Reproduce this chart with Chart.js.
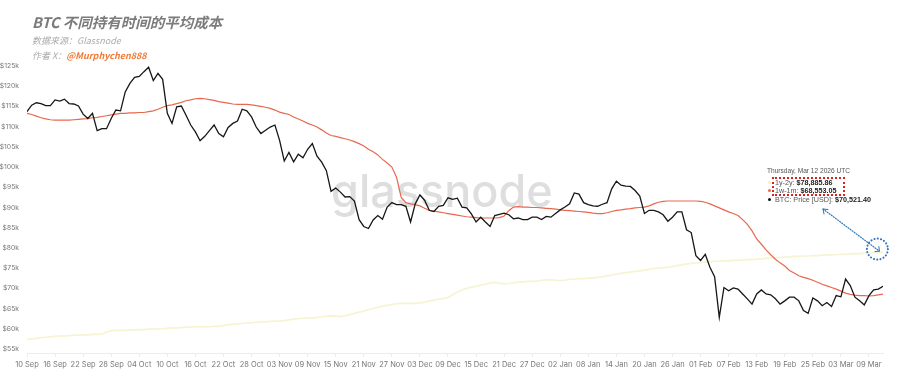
<!DOCTYPE html>
<html>
<head>
<meta charset="utf-8">
<script src="https://cdn.jsdelivr.net/npm/chart.js@4.4.1/dist/chart.umd.min.js"></script>
<style>
  body { margin: 0; background: #fff; }
  #wrap { position: relative; width: 900px; height: 388px; overflow: hidden; }
  #chart { position: absolute; left: 0; top: 0; }
  .head { position: absolute; left: 32px; font-style: italic; white-space: nowrap; font-family: 'Noto Sans CJK SC', 'Noto Sans', sans-serif; }
  #title { top: 11px; font-size: 14.5px; font-weight: 700; color: #7b7b7b; }
  #source { top: 34px; font-size: 9px; color: #ababab; }
  #author { top: 49px; font-size: 9px; color: #ababab; }
  #author b { color: #f07a36; }
  #tip { position: absolute; left: 767px; top: 0; font-family: 'Liberation Sans', Arial, sans-serif; color: #555; white-space: nowrap; }
  #tip div { position: absolute; left: 0; height: 8px; line-height: 8px; }
  #tipHead { top: 167px; font-size: 6.6px; }
  #tip .row { font-size: 7.2px; }
  #tip .row b { color: #222; }
  #tip .dot { display: inline-block; width: 3px; height: 3px; border-radius: 50%; margin: 0 4px 1px 1px; vertical-align: middle; }
  #tipBox { position: absolute; left: 772px; top: 176.5px; width: 69px; height: 15px; border: 2px dotted #d9221f; }
</style>
</head>
<body>
<div id="wrap">
  <canvas id="chart" width="900" height="388"></canvas>
  <div class="head" id="title">BTC 不同持有时间的平均成本</div>
  <div class="head" id="source">数据来源：Glassnode</div>
  <div class="head" id="author">作者 X：<b>@Murphychen888</b></div>
  <div id="tipBox"></div>
  <div id="tip">
    <div id="tipHead">Thursday, Mar 12 2026 UTC</div>
    <div class="row" style="top:179px"><span class="dot" style="background:#f3f0b8"></span>1y-2y: <b id="v1"></b></div>
    <div class="row" style="top:186.5px"><span class="dot" style="background:#e8684f"></span>1w-1m: <b id="v2"></b></div>
    <div class="row" style="top:196px"><span class="dot" style="background:#111"></span>BTC: Price [USD]: <b id="v3"></b></div>
  </div>
</div>
<script>
'use strict'

// daily values in $k, 10 Sep 2025 .. 12 Mar 2026
const tickLabels = ['10 Sep', '16 Sep', '22 Sep', '28 Sep', '04 Oct', '10 Oct', '16 Oct', '22 Oct', '28 Oct',
  '03 Nov', '09 Nov', '15 Nov', '21 Nov', '27 Nov', '03 Dec', '09 Dec', '15 Dec', '21 Dec', '27 Dec',
  '02 Jan', '08 Jan', '14 Jan', '20 Jan', '26 Jan', '01 Feb', '07 Feb', '13 Feb', '19 Feb', '25 Feb',
  '03 Mar', '09 Mar'];
const tickStep = 6; // days between x labels

const yTickValues = [55, 60, 65, 70, 75, 80, 85, 90, 95, 100, 105, 110, 115, 120, 125];

const btcPrice = [
  113.7, 115.3, 115.9, 115.7, 115.2, 115.2, 116.6, 116.3, 116.8, 115.7,
  115.6, 115.1, 113.1, 112.0, 113.3, 109.0, 109.5, 109.5, 112.0, 114.1,
  113.9, 118.6, 120.7, 122.2, 122.4, 123.6, 124.7, 121.4, 123.2, 121.7,
  113.3, 110.8, 114.9, 115.1, 112.8, 110.4, 108.7, 106.5, 107.6, 109.0,
  110.4, 108.3, 107.5, 109.8, 110.8, 111.4, 114.3, 113.9, 112.4, 109.9,
  108.3, 109.1, 109.9, 110.4, 106.6, 101.5, 103.6, 101.3, 103.2, 102.3,
  104.4, 105.8, 102.7, 101.2, 99.1, 94.0, 94.8, 93.8, 92.6, 92.7,
  91.6, 87.0, 85.3, 84.8, 86.9, 88.0, 87.1, 90.1, 91.2, 90.7,
  90.7, 90.3, 86.4, 90.9, 93.1, 91.8, 89.3, 89.0, 90.3, 90.5,
  92.4, 92.0, 92.3, 90.1, 89.9, 88.4, 86.4, 87.6, 86.4, 85.3,
  88.0, 88.3, 88.6, 88.2, 87.2, 87.4, 87.0, 87.0, 87.6, 87.6,
  87.0, 87.8, 87.6, 88.5, 89.4, 90.1, 90.9, 93.6, 93.3, 91.2,
  90.7, 90.4, 90.3, 90.8, 91.2, 94.6, 96.5, 95.5, 95.3, 95.2,
  94.2, 92.8, 88.5, 89.3, 89.3, 88.9, 88.2, 86.6, 87.6, 88.9,
  88.9, 84.5, 83.8, 78.1, 76.9, 78.4, 75.2, 72.9, 62.8, 70.2,
  69.4, 70.1, 69.8, 68.6, 67.4, 66.1, 68.6, 69.6, 68.6, 68.4,
  67.4, 66.1, 66.9, 67.8, 67.8, 66.9, 64.5, 63.8, 67.6, 66.9,
  65.7, 66.5, 65.5, 68.2, 67.9, 72.3, 70.7, 67.8, 66.9, 65.9,
  68.2, 69.6, 69.8, 70.5214
];

// 1w-1m realized price
const cost1w1m = [
  113.3, 113.0, 112.6, 112.2, 111.9, 111.7, 111.6, 111.6, 111.6, 111.6,
  111.7, 111.8, 111.9, 112.0, 112.2, 112.3, 112.5, 112.7, 112.9, 113.1,
  113.3, 113.3, 113.4, 113.4, 113.5, 113.5, 113.7, 113.9, 114.3, 114.8,
  115.2, 115.4, 115.7, 116.0, 116.4, 116.6, 116.9, 117.0, 116.9, 116.7,
  116.5, 116.2, 116.0, 115.8, 115.6, 115.5, 115.5, 115.5, 115.4, 115.2,
  115.0, 114.8, 114.5, 114.1, 113.6, 113.3, 113.0, 112.4, 111.9, 111.4,
  110.8, 110.4, 109.9, 109.2, 108.4, 107.8, 107.6, 107.3, 107.0, 106.7,
  106.3, 105.8, 105.2, 104.4, 103.8, 103.0, 101.9, 101.0, 100.0, 97.5,
  92.5, 91.2, 90.9, 90.7, 90.4, 89.8, 89.3, 89.1, 88.9, 88.7,
  88.5, 88.3, 88.1, 87.9, 87.7, 87.6, 87.5, 87.4, 87.4, 87.4,
  87.4, 87.5, 87.9, 89.2, 90.1, 90.2, 90.1, 90.1, 90.0, 90.0,
  89.9, 89.8, 89.7, 89.6, 89.4, 89.3, 89.2, 89.1, 89.0, 88.9,
  88.8, 88.6, 88.5, 88.5, 88.7, 89.0, 89.3, 89.4, 89.6, 89.7,
  89.9, 90.0, 90.1, 90.4, 90.9, 91.3, 91.5, 91.6, 91.6, 91.6,
  91.6, 91.6, 91.6, 91.6, 91.5, 91.3, 90.9, 90.4, 89.9, 89.4,
  88.9, 88.5, 88.0, 87.0, 85.8, 84.2, 82.2, 80.9, 79.5, 78.3,
  77.2, 76.3, 75.5, 74.4, 73.8, 73.1, 72.7, 72.4, 72.0, 71.5,
  71.0, 70.6, 70.2, 69.8, 69.3, 68.8, 68.5, 68.3, 68.2, 68.2,
  68.1, 68.2, 68.4, 68.55305
];

// 1y-2y realized price
const cost1y2y = [
  57.4, 57.5, 57.6, 57.8, 57.9, 58.0, 58.1, 58.2, 58.25, 58.3,
  58.4, 58.4, 58.5, 58.5, 58.6, 58.6, 58.7, 59.2, 59.5, 59.6,
  59.6, 59.6, 59.7, 59.7, 59.8, 59.8, 59.9, 59.9, 60.0, 60.0,
  60.1, 60.2, 60.2, 60.3, 60.4, 60.4, 60.5, 60.5, 60.5, 60.5,
  60.6, 60.6, 60.8, 61.0, 61.1, 61.2, 61.3, 61.4, 61.5, 61.6,
  61.7, 61.7, 61.8, 61.9, 61.9, 62.0, 62.2, 62.4, 62.5, 62.6,
  62.7, 62.7, 62.8, 62.9, 63.1, 63.2, 63.1, 63.0, 63.2, 63.5,
  63.8, 64.1, 64.4, 64.7, 65.0, 65.3, 65.6, 65.8, 66.0, 66.2,
  66.3, 66.3, 66.3, 66.3, 66.4, 66.6, 66.9, 67.1, 67.3, 67.5,
  67.7, 68.4, 69.1, 69.6, 70.0, 70.3, 70.5, 70.8, 71.0, 71.3,
  71.5, 71.3, 71.1, 71.2, 71.4, 71.5, 71.6, 71.7, 71.7, 71.8,
  72.0, 72.1, 72.1, 72.0, 71.9, 72.0, 72.2, 72.3, 72.4, 72.4,
  72.5, 72.6, 72.7, 72.9, 73.1, 73.3, 73.5, 73.7, 73.9, 74.0,
  74.2, 74.3, 74.5, 74.7, 74.9, 75.0, 75.1, 75.2, 75.4, 75.6,
  75.8, 76.0, 76.2, 76.3, 76.4, 76.5, 76.6, 76.7, 76.7, 76.8,
  76.8, 76.9, 76.9, 77.0, 77.1, 77.1, 77.2, 77.3, 77.4, 77.5,
  77.6, 77.6, 77.7, 77.8, 77.9, 77.9, 78.0, 78.0, 78.1, 78.1,
  78.2, 78.2, 78.3, 78.3, 78.4, 78.4, 78.5, 78.6, 78.6, 78.7,
  78.7, 78.8, 78.85, 78.88586
];

const toPoints = arr => arr.map((v, i) => ({ x: i, y: v * 1000 }));
const usd = v => '$' + (v * 1000).toLocaleString('en-US', { minimumFractionDigits: 2, maximumFractionDigits: 2 });
const last = arr => arr[arr.length - 1];

document.getElementById('v1').textContent = usd(last(cost1y2y));
document.getElementById('v2').textContent = usd(last(cost1w1m));
document.getElementById('v3').textContent = usd(last(btcPrice));

// glassnode watermark behind the lines
const watermark = {
  id: 'watermark',
  beforeDatasetsDraw(chart) {
    const ctx = chart.ctx;
    ctx.save();
    ctx.font = '500 45px Inter, sans-serif';
    ctx.fillStyle = '#dedede';
    ctx.textBaseline = 'alphabetic';
    ctx.fillText('glassnode', 331, 207);
    ctx.restore();
  }
};

// blue dotted circle + arrow pointing at the tooltip
const pointer = {
  id: 'pointer',
  afterDraw(chart) {
    const ctx = chart.ctx;
    const cx = chart.scales.x.getPixelForValue(181.8);
    const cy = chart.scales.y.getPixelForValue(79700);
    ctx.save();
    ctx.strokeStyle = '#2f74bd';
    ctx.lineWidth = 2;
    ctx.lineCap = 'round';
    ctx.setLineDash([0.1, 3.2]);
    ctx.beginPath();
    ctx.arc(cx, cy, 10.5, 0, Math.PI * 2);
    ctx.stroke();

    ctx.lineWidth = 1.2;
    ctx.setLineDash([1, 1.6]);
    const sx = 823, sy = 209;
    ctx.beginPath();
    ctx.moveTo(sx, sy);
    ctx.lineTo(cx + 2, cy + 2);
    ctx.stroke();
    ctx.setLineDash([]);
    ctx.lineWidth = 1;
    // arrow head near tooltip
    ctx.beginPath();
    ctx.moveTo(sx + 5, sy + 0.5);
    ctx.lineTo(sx, sy);
    ctx.lineTo(sx + 1, sy + 5);
    ctx.stroke();
    // arrow head inside circle
    ctx.beginPath();
    ctx.moveTo(cx - 2.5, cy + 2.5);
    ctx.lineTo(cx + 2, cy + 2);
    ctx.lineTo(cx + 1.5, cy - 2.5);
    ctx.stroke();
    ctx.restore();
  }
};

new Chart(document.getElementById('chart'), {
  type: 'line',
  data: {
    datasets: [
      { label: 'BTC: Price [USD]', data: toPoints(btcPrice), borderColor: '#161616', borderWidth: 1.3, order: 1 },
      { label: '1w-1m', data: toPoints(cost1w1m), borderColor: '#e8684f', borderWidth: 1.2, order: 2 },
      { label: '1y-2y', data: toPoints(cost1y2y), borderColor: '#f6f4d2', borderWidth: 1.7, order: 3 }
    ]
  },
  options: {
    responsive: false,
    animation: false,
    parsing: false,
    elements: { point: { radius: 0 }, line: { tension: 0 } },
    layout: { padding: { top: 66, right: 17, left: 0, bottom: 0 } },
    plugins: { legend: { display: false }, tooltip: { enabled: false } },
    scales: {
      x: {
        type: 'linear',
        min: 0,
        max: btcPrice.length - 1,
        afterBuildTicks: s => { s.ticks = tickLabels.map((_, i) => ({ value: i * tickStep })); },
        afterFit: s => { s.height = 35; },
        grid: { drawOnChartArea: false, color: '#ececec', tickLength: 4 },
        border: { color: '#ececec' },
        ticks: {
          autoSkip: false,
          maxRotation: 0,
          padding: 3,
          color: '#777',
          font: { family: 'Inter, sans-serif', size: 7.5 },
          callback: v => tickLabels[v / tickStep]
        }
      },
      y: {
        min: 54000,
        max: 125000,
        afterBuildTicks: s => { s.ticks = yTickValues.map(v => ({ value: v * 1000 })); },
        afterFit: s => { s.width = 27; },
        grid: { display: false, drawTicks: false },
        border: { display: false },
        ticks: {
          padding: 8,
          color: '#777',
          font: { family: 'Inter, sans-serif', size: 6.8 },
          callback: v => '$' + v / 1000 + 'k'
        }
      }
    }
  },
  plugins: [watermark, pointer]
});
</script>
</body>
</html>
